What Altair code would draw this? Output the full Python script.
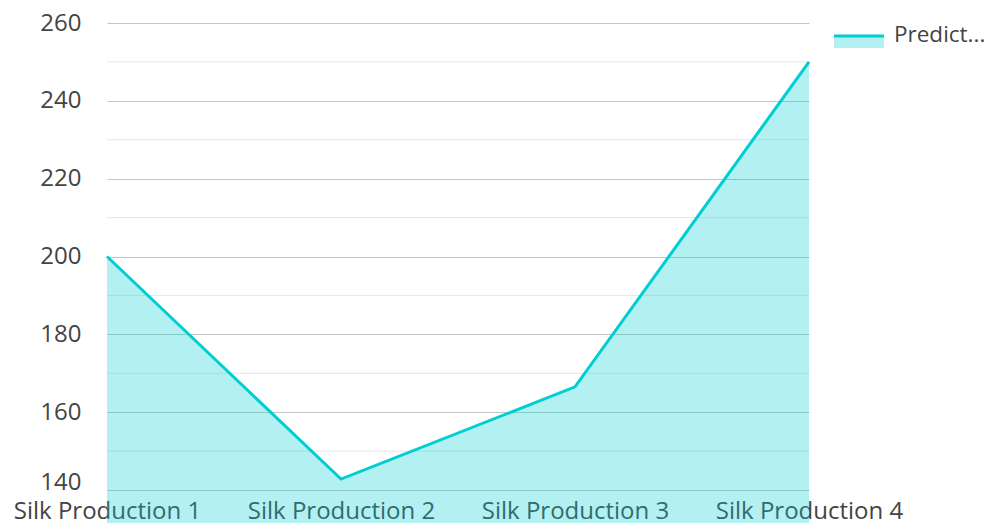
import altair as alt
import pandas as pd

categories = ["Silk Production 1", "Silk Production 2", "Silk Production 3", "Silk Production 4"]
values = [200, 142.8, 166.5, 250]
series_name = "Prediction"
legend_label = "Predict..."
major_ticks = [140, 160, 180, 200, 220, 240, 260]
minor_ticks = [150, 170, 190, 210, 230, 250]

df = pd.DataFrame({"category": categories, "value": values, "series": series_name})
minor_df = pd.DataFrame({"value": minor_ticks})
legend_df = pd.DataFrame({"label": [legend_label]})

COLOR = "#00CED1"
TEXT = "#444444"
FONT = "Open Sans"

y_scale = alt.Scale(domain=[140, 260], nice=False, zero=False)
y_axis = alt.Axis(
    title=None, values=major_ticks, labelFontSize=24, labelColor=TEXT, labelFont=FONT,
    labelPadding=26, domain=False, ticks=False, grid=True, gridColor="#c4c4c4",
    gridWidth=1,
    labelOffset={"condition": {"test": "datum.value === 140", "value": -8}, "value": 0},
)

x_enc = alt.X(
    "category:N",
    sort=categories,
    scale=alt.Scale(type="point", padding=0),
    axis=alt.Axis(
        title=None, labelAngle=0, labelFontSize=24, labelColor=TEXT, labelFont=FONT,
        labelPadding=9, domain=False, ticks=False, grid=False, labelLimit=400,
    ),
)
y_enc = alt.Y("value:Q", scale=y_scale, axis=y_axis)

minor = alt.Chart(minor_df).mark_rule(color="#e6e6e6", strokeWidth=1).encode(
    y=alt.Y("value:Q", scale=y_scale, axis=y_axis)
)

area = alt.Chart(df).mark_area(color=COLOR, opacity=0.3).encode(x=x_enc, y=y_enc)
line = alt.Chart(df).mark_line(color=COLOR, strokeWidth=3).encode(x=x_enc, y=y_enc)

leg_rect = alt.Chart(legend_df).mark_rect(color=COLOR, opacity=0.3).encode(
    x=alt.value(727), x2=alt.value(777), y=alt.value(13), y2=alt.value(25)
)
leg_rule = alt.Chart(legend_df).mark_rule(color=COLOR, strokeWidth=3).encode(
    x=alt.value(727), x2=alt.value(777), y=alt.value(13)
)
leg_text = alt.Chart(legend_df).mark_text(
    align="left", baseline="middle", fontSize=22.5, font=FONT, color=TEXT
).encode(x=alt.value(787), y=alt.value(12), text="label:N")

chart = alt.layer(minor, area, line, leg_rect, leg_rule, leg_text).properties(
    width=702,
    height=467,
    autosize=alt.AutoSizeParams(type="none"),
    padding={"left": 99, "top": 15, "right": 179, "bottom": 33},
    background="white",
).configure_view(stroke=None)

chart.save("out.html", embed_options={"renderer": "svg", "actions": False})
